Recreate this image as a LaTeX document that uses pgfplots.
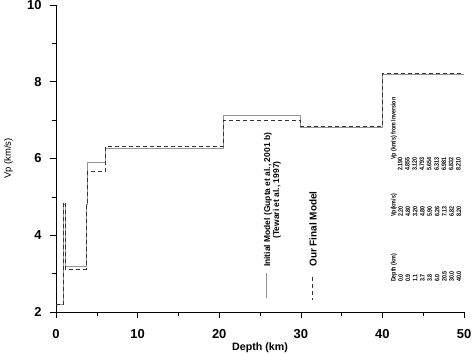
\documentclass[border=0pt]{standalone}
\usepackage{fontspec}
\setmainfont{Liberation Sans}
\newfontfamily\narrowfont[FakeStretch=0.82]{Liberation Sans}
\usepackage{pgfplots}
\pgfplotsset{compat=1.18}
\begin{document}
\begin{tikzpicture}
\begin{axis}[
  scale only axis, width=408bp, height=307bp,
  xmin=0, xmax=50, ymin=2, ymax=10,
  axis lines=left, axis line style={-, black, line width=0.6bp},
  xtick={0,10,...,50}, ytick={2,4,...,10},
  minor xtick={5,15,...,45}, minor ytick={3,5,7,9},
  tick align=outside, major tick length=6bp, minor tick length=4bp,
  tick style={black, line width=0.6bp},
  /pgf/number format/assume math mode=true,
  tick label style={font=\fontsize{13}{15}\selectfont\bfseries},
  xticklabel style={yshift=-8bp},
  yticklabel style={xshift=-5bp},
  xlabel={Depth (km)},
  xlabel style={font=\fontsize{10.7}{12}\selectfont\bfseries, at={(axis description cs:0.5,-0.1173)}, anchor=center},
  ylabel={Vp (km/s)},
  ylabel style={font=\fontsize{9.5}{11}\selectfont, at={(axis description cs:-0.1164,0.5)}, anchor=center},
]
\addplot[const plot, color=gray!85, line width=0.8bp] coordinates {
  (0,2.2) (0.9,4.8) (1.1,3.2) (3.7,4.8) (3.8,5.9) (6.0,6.26) (20.5,7.13) (30,6.82) (40,8.2) (50,8.2)};
\addplot[const plot, color=black!80, dash pattern=on 4bp off 3bp, line width=0.8bp] coordinates {
  (0,2.19) (0.9,4.855) (1.1,3.12) (3.7,4.793) (3.8,5.654) (6.0,6.313) (20.5,6.981) (30,6.832) (40,8.21) (50,8.21)};
% legend
\draw[gray!85, line width=0.8bp] (axis cs:25.74,3.016) -- (axis cs:25.74,2.365);
\node[rotate=90, align=center, inner sep=0, font=\fontsize{8.5}{9}\selectfont\bfseries] at (axis cs:26.53,4.92)
  {Initial Model (Gupta et al., 2001 b)\\(Tewari et al., 1997)};
\draw[black!80, dash pattern=on 4bp off 3bp, line width=0.8bp] (axis cs:31.37,2.912) -- (axis cs:31.37,2.313);
\node[rotate=90, inner sep=0, font=\fontsize{10}{12}\selectfont\bfseries] at (axis cs:31.5,4.163) {Our Final Model};
% table
\node[rotate=90, anchor=north west, inner sep=0, align=left, font=\narrowfont\fontsize{6.5}{7.3}\selectfont\bfseries] at (axis cs:41.02,2.78)
  {Depth (km)\\0.0\\0.9\\1.1\\3.7\\3.8\\6.0\\20.5\\30.0\\40.0};
\node[rotate=90, anchor=north west, inner sep=0, align=left, font=\narrowfont\fontsize{6.5}{7.3}\selectfont\bfseries] at (axis cs:41.02,4.48)
  {Vp(km/s)\\2.20\\4.80\\3.20\\4.80\\5.90\\6.26\\7.13\\6.82\\8.20};
\node[rotate=90, anchor=north west, inner sep=0, font=\narrowfont\fontsize{6.5}{7.3}\selectfont\bfseries] at (axis cs:41.02,5.96)
  {Vp (km/s) from Inversion};
\node[rotate=90, anchor=north east, inner sep=0, align=right, font=\narrowfont\fontsize{6.5}{7.3}\selectfont\bfseries] at (axis cs:41.87,6.04)
  {2.190\\4.855\\3.120\\4.793\\5.654\\6.313\\6.981\\6.832\\8.210};
\coordinate (BL) at (rel axis cs:0,0);
\coordinate (TR) at (rel axis cs:1,1);
\end{axis}
\pgfresetboundingbox
\useasboundingbox ([shift={(-56bp,-43bp)}]BL) rectangle ([shift={(10bp,5bp)}]TR);
\end{tikzpicture}
\end{document}
